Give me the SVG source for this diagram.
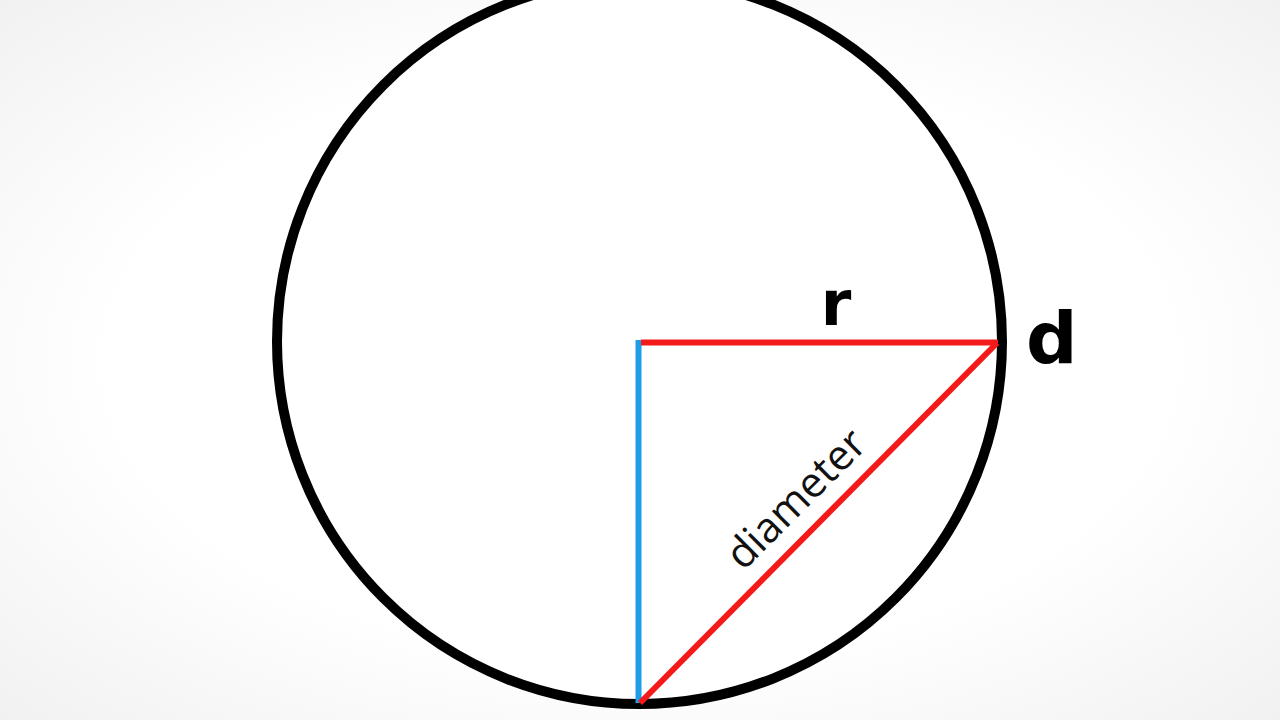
<svg xmlns="http://www.w3.org/2000/svg" width="1280" height="720" viewBox="0 0 1280 720">
  <defs>
    <radialGradient id="bg" cx="50%" cy="50%" r="75%">
      <stop offset="0.55" stop-color="#ffffff"/>
      <stop offset="1" stop-color="#efefef"/>
    </radialGradient>
    <style>
      .red { stroke: #f41a1a; stroke-width: 6; fill: none; }
      .blue { stroke: #1c9de6; stroke-width: 6; fill: none; }
      .lbl { font-family: "DejaVu Sans", "Liberation Sans", sans-serif; font-weight: bold; fill: #000; }
      .diam { font-family: "Open Sans", "Noto Sans", sans-serif; font-size: 42px; fill: #111; }
    </style>
  </defs>
  <rect width="1280" height="720" fill="url(#bg)"/>
  <g id="circle">
    <circle cx="639.5" cy="341.5" r="362.5" fill="#ffffff" stroke="#000" stroke-width="10"/>
  </g>
  <g id="connectors">
    <line class="blue" x1="638.5" y1="340" x2="638.5" y2="703"/>
    <line class="red" x1="641" y1="342.5" x2="998" y2="342.5"/>
    <line class="red" x1="997" y1="343" x2="640" y2="703"/>
  </g>
  <g id="label-r">
    <text class="lbl" x="836" y="325" font-size="62" text-anchor="middle">r</text>
  </g>
  <g id="label-d">
    <text class="lbl" x="1026" y="363" font-size="72">d</text>
  </g>
  <g id="label-diameter">
    <text class="diam" x="0" y="0" text-anchor="middle" transform="translate(806,509) rotate(-45)">diameter</text>
  </g>
</svg>
